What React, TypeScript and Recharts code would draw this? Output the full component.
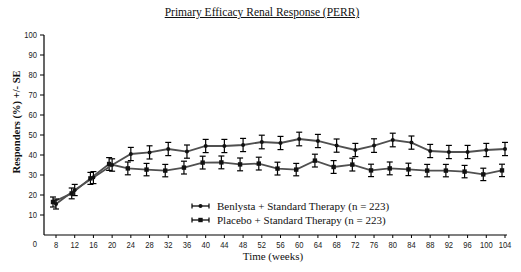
import React from "react";
import { LineChart, Line, XAxis, YAxis, ErrorBar } from "recharts";

const weeks = [8, 12, 16, 20, 24, 28, 32, 36, 40, 44, 48, 52, 56, 60, 64, 68, 72, 76, 80, 84, 88, 92, 96, 100, 104];
const benlysta = [15.5, 22.5, 28.7, 35, 40.5, 41.3, 43, 41.7, 44.5, 44.5, 45, 46.5, 46, 48, 47, 44.7, 42.5, 44.7, 47.5, 46.2, 42, 41.5, 41.5, 42.5, 43];
const benlystaSE = [2.5, 2.8, 3.0, 3.1, 3.3, 3.3, 3.3, 3.3, 3.3, 3.3, 3.3, 3.4, 3.3, 3.4, 3.3, 3.3, 3.3, 3.4, 3.4, 3.3, 3.3, 3.3, 3.3, 3.3, 3.3];
const placebo = [16.5, 20.8, 28.3, 35.5, 33.3, 32.7, 32.2, 33.7, 36.2, 36.3, 35.3, 35.7, 33.2, 32.7, 37.2, 34, 35.2, 32.3, 33.3, 32.8, 32.2, 32.2, 31.7, 30.3, 32.3];
const placeboSE = [2.5, 2.7, 3.0, 3.2, 3.2, 3.1, 3.1, 3.2, 3.2, 3.2, 3.2, 3.2, 3.2, 3.1, 3.2, 3.2, 3.2, 3.1, 3.2, 3.1, 3.1, 3.1, 3.1, 3.1, 3.1];
const yTicks = [0, 10, 20, 30, 40, 50, 60, 70, 80, 90, 100];
const seriesNames = ["Benlysta + Standard Therapy (n = 223)", "Placebo + Standard Therapy (n = 223)"];
const title = "Primary Efficacy Renal Response (PERR)";
const yLabel = "Responders (%) +/- SE";
const xLabel = "Time (weeks)";

const data = weeks.map((w, i) => ({
  week: w,
  b: benlysta[i],
  bSe: benlystaSE[i],
  p: placebo[i],
  pSe: placeboSE[i],
}));

const tickFont = "'Liberation Sans', Arial, sans-serif";
const serif = "'Liberation Serif', 'Times New Roman', serif";
const lineColor = "#505050";

const YTick = (props: any) => {
  const { x, y, payload } = props;
  const v = payload.value;
  return (
    <g>
      <text
        transform={`translate(${x},${y + (v === 0 ? 12 : 3.3)}) scale(0.8,1)`}
        textAnchor="end"
        fontSize={9.5}
        fontFamily={tickFont}
        fill="#222"
      >
        {v}
      </text>
      {v !== 0 && <line x1={x + 3} x2={x + 7} y1={y} y2={y} stroke="#000" strokeWidth={1} />}
    </g>
  );
};

const XTick = (props: any) => {
  const { x, y, payload } = props;
  return (
    <text
      transform={`translate(${x},${y + 7.5}) scale(0.8,1)`}
      textAnchor="middle"
      fontSize={9.5}
      fontFamily={tickFont}
      fill="#222"
    >
      {payload.value}
    </text>
  );
};

const CircleDot = (props: any) => {
  const { cx, cy } = props;
  if (cx == null || cy == null) return null;
  return <circle cx={cx} cy={cy} r={2} fill="#111" stroke="none" />;
};

const SquareDot = (props: any) => {
  const { cx, cy } = props;
  if (cx == null || cy == null) return null;
  return <rect x={cx - 2.2} y={cy - 2.2} width={4.4} height={4.4} fill="#111" stroke="none" />;
};

const LegendSymbol = ({ square }: { square: boolean }) => (
  <svg width={20} height={10} style={{ display: "block" }}>
    <line x1={1} x2={18} y1={5} y2={5} stroke={lineColor} strokeWidth={1.8} />
    <line x1={1} x2={1} y1={2.5} y2={7.5} stroke="#000" strokeWidth={1.2} />
    <line x1={18} x2={18} y1={2.5} y2={7.5} stroke="#000" strokeWidth={1.2} />
    {square ? (
      <rect x={7.3} y={2.8} width={4.4} height={4.4} fill="#111" />
    ) : (
      <circle cx={9.5} cy={5} r={2} fill="#111" />
    )}
  </svg>
);

export default function App() {
  return (
    <div
      style={{
        position: "absolute",
        left: 0,
        top: 0,
        width: 521,
        height: 272,
        background: "#fff",
        fontFamily: serif,
        overflow: "hidden",
      }}
    >
      <div
        style={{
          position: "absolute",
          left: 0,
          width: 524,
          top: 5,
          textAlign: "center",
          fontSize: 11.5,
          textDecoration: "underline",
          color: "#111",
          lineHeight: "14px",
        }}
      >
        {title}
      </div>
      <div
        style={{
          position: "absolute",
          left: 17,
          top: 122,
          transform: "translate(-50%, -50%) rotate(-90deg)",
          whiteSpace: "nowrap",
          fontSize: 10.5,
          fontWeight: "bold",
          color: "#111",
          lineHeight: "12px",
        }}
      >
        {yLabel}
      </div>
      <div
        style={{
          position: "absolute",
          left: 0,
          width: 546,
          top: 250,
          textAlign: "center",
          fontSize: 11,
          color: "#111",
          lineHeight: "13px",
        }}
      >
        {xLabel}
      </div>
      <LineChart
        width={521}
        height={272}
        data={data}
        margin={{ top: 35, right: 14, bottom: 7, left: 0 }}
      >
        <XAxis
          dataKey="week"
          type="category"
          interval={0}
          padding={{ left: 12, right: 2 }}
          tickSize={3}
          tickMargin={2}
          height={30}
          stroke="#000"
          axisLine={{ stroke: "#000", strokeWidth: 1.2 }}
          tickLine={{ stroke: "#000" }}
          tick={<XTick />}
        />
        <XAxis
          xAxisId="p"
          dataKey="week"
          type="category"
          hide
          padding={{ left: 9, right: 5 }}
        />
        <YAxis
          width={44}
          domain={[0, 100]}
          ticks={yTicks}
          interval={0}
          tickSize={4}
          tickMargin={3}
          tickLine={false}
          axisLine={{ stroke: "#000", strokeWidth: 1.2 }}
          tick={<YTick />}
        />
        <Line
          dataKey="p"
          xAxisId="p"
          stroke={lineColor}
          strokeWidth={1.8}
          dot={<SquareDot />}
          activeDot={false}
          isAnimationActive={false}
        >
          <ErrorBar dataKey="pSe" width={3} stroke="#000" strokeWidth={1.2} direction="y" />
        </Line>
        <Line
          dataKey="b"
          stroke={lineColor}
          strokeWidth={1.8}
          dot={<CircleDot />}
          activeDot={false}
          isAnimationActive={false}
        >
          <ErrorBar dataKey="bSe" width={3} stroke="#000" strokeWidth={1.2} direction="y" />
        </Line>
      </LineChart>
      {seriesNames.map((name, i) => (
        <div
          key={name}
          style={{
            position: "absolute",
            left: 191,
            top: 199 + i * 14,
            height: 14,
            display: "flex",
            alignItems: "center",
            whiteSpace: "nowrap",
            fontSize: 11,
            color: "#111",
          }}
        >
          <LegendSymbol square={i === 1} />
          <span style={{ marginLeft: 6 }}>{name}</span>
        </div>
      ))}
    </div>
  );
}
